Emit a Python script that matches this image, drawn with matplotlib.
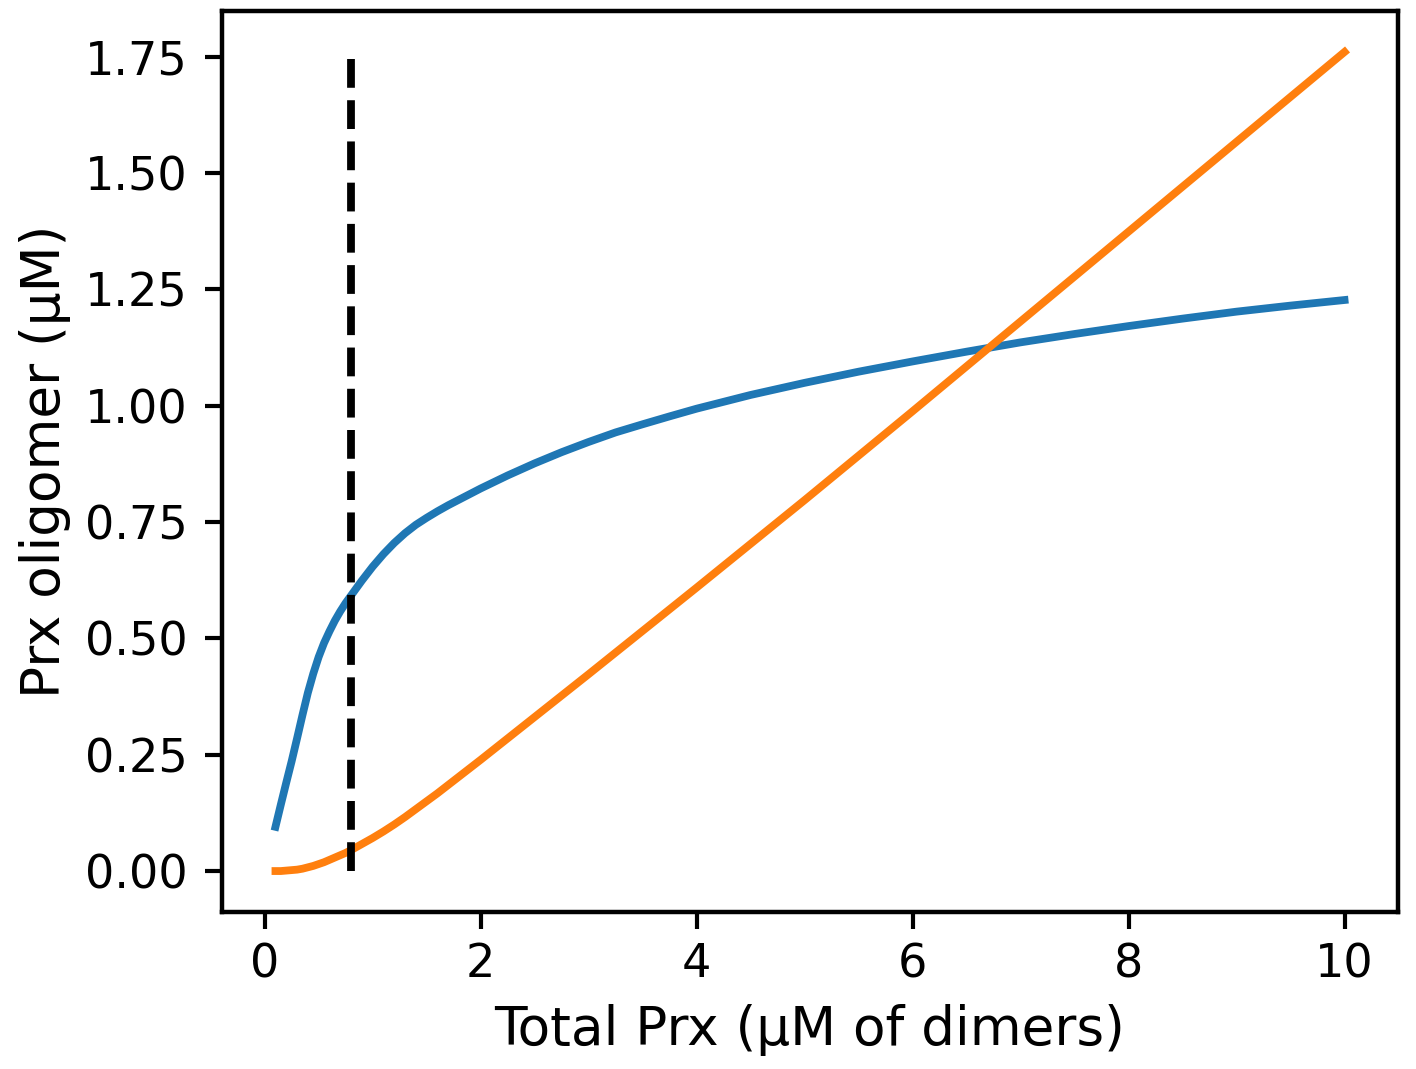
import numpy as np
import matplotlib
matplotlib.use("Agg")
import matplotlib.pyplot as plt

# values
total_prx = [0.1, 0.15, 0.2, 0.25, 0.3, 0.35, 0.4, 0.45, 0.5, 0.55, 0.6, 0.65, 0.7, 0.75, 0.8,
             0.9, 1.0, 1.1, 1.2, 1.3, 1.4, 1.5, 1.6, 1.7, 1.8, 1.9, 2.0, 2.25, 2.5, 2.75,
             3.0, 3.25, 3.5, 3.75, 4.0, 4.5, 5.0, 5.5, 6.0, 6.5, 7.0, 7.5, 8.0, 8.5, 9.0,
             9.5, 10.0]
oligomer_blue = [0.095, 0.143, 0.19, 0.236, 0.285, 0.335, 0.383, 0.424, 0.46, 0.49, 0.515,
                 0.538, 0.558, 0.576, 0.592, 0.624, 0.654, 0.681, 0.705, 0.726, 0.744, 0.759,
                 0.773, 0.786, 0.798, 0.81, 0.822, 0.85, 0.876, 0.9, 0.922, 0.9425, 0.96,
                 0.977, 0.9935, 1.023, 1.049, 1.073, 1.095, 1.116, 1.136, 1.154, 1.171, 1.187,
                 1.202, 1.215, 1.227]
oligomer_orange = [0.0, 0.0, 0.001, 0.002, 0.003, 0.005, 0.008, 0.011, 0.015, 0.019, 0.024,
                   0.029, 0.034, 0.039, 0.045, 0.058, 0.071, 0.085, 0.1, 0.116, 0.133, 0.15,
                   0.167, 0.185, 0.203, 0.221, 0.239, 0.285, 0.331, 0.377, 0.423, 0.4695,
                   0.516, 0.5625, 0.609, 0.703, 0.797, 0.8925, 0.988, 1.0845, 1.181, 1.2775,
                   1.374, 1.4705, 1.567, 1.6635, 1.76]
threshold_x = 0.8
threshold_y = [0.0, 1.75]

plt.rcParams['font.size'] = 16.6
plt.rcParams['axes.linewidth'] = 1.6

fig = plt.figure(figsize=(7.08, 5.345), dpi=200)
ax = fig.add_axes([222 / 1416, 1 - 912 / 1069, (1398 - 222) / 1416, (912 - 11) / 1069])

ax.plot(total_prx, oligomer_blue, color='#1f77b4', lw=2.8)
ax.plot(total_prx, oligomer_orange, color='#ff7f0e', lw=2.8)
ax.plot([threshold_x, threshold_x], threshold_y, 'k--', lw=2.8)

ax.set_xlabel('Total Prx (μM of dimers)', fontsize=19.2, labelpad=6)
ax.set_ylabel('Prx oligomer (μM)', fontsize=19.2, labelpad=5)
ax.set_xticks([0, 2, 4, 6, 8, 10])
ax.set_yticks([0.0, 0.25, 0.5, 0.75, 1.0, 1.25, 1.5, 1.75])
ax.tick_params(width=1.5, length=6)
ax.tick_params(axis='x', pad=4.8)
ax.tick_params(axis='y', pad=6.2)

fig.savefig('out.png', dpi=200)
